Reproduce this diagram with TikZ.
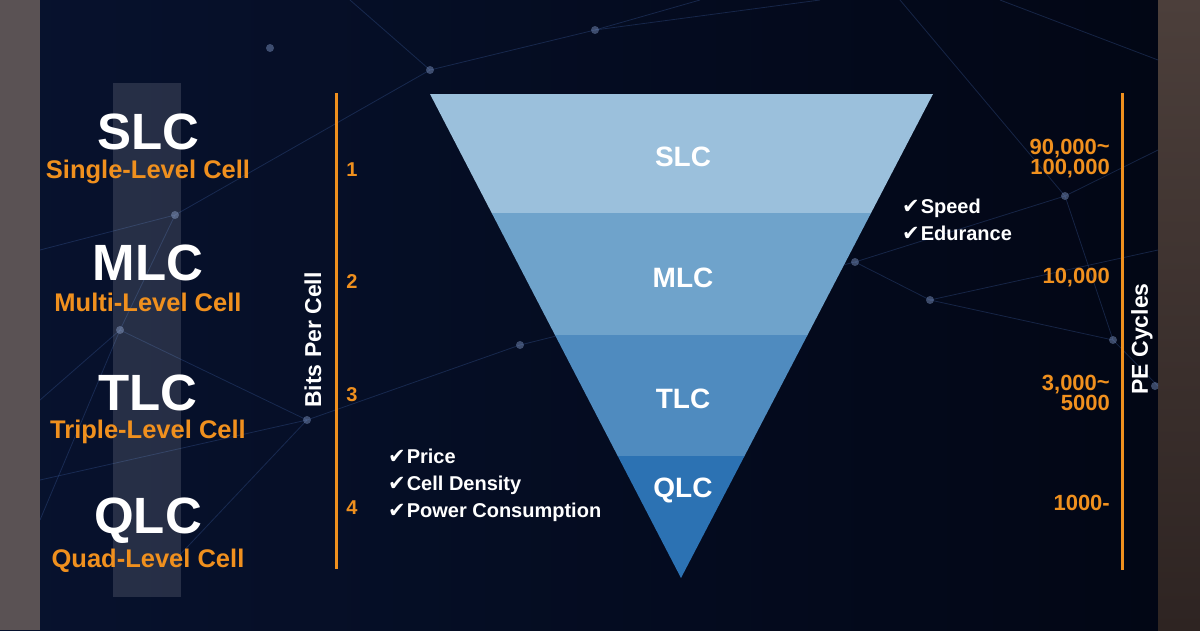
\documentclass[tikz,border=0pt]{standalone}
\usepackage{fontspec}
\setmainfont{Liberation Sans}
\newfontfamily\symfont{DejaVu Sans}
\usetikzlibrary{calc}
\definecolor{navy}{HTML}{07122E}
\definecolor{navydark}{HTML}{020614}
\definecolor{orng}{HTML}{F0901E}
\definecolor{bandA}{HTML}{9BC0DC}
\definecolor{bandB}{HTML}{6FA3CB}
\definecolor{bandC}{HTML}{4F8BBF}
\definecolor{bandD}{HTML}{2C72B3}
\definecolor{netline}{HTML}{3A5A9A}
\definecolor{leftstrip}{HTML}{5A5254}
\definecolor{rightstripA}{HTML}{4C3F3B}
\definecolor{rightstripB}{HTML}{2E2422}
\tikzset{
  big/.style={text=white,font=\fontsize{51}{51}\selectfont\bfseries,inner sep=0pt},
  sub/.style={text=orng,font=\fontsize{25.5}{25}\selectfont\bfseries,inner sep=0pt},
  tri/.style={text=white,font=\fontsize{28}{28}\selectfont\bfseries,inner sep=0pt},
  bit/.style={text=orng,font=\fontsize{20}{20}\selectfont\bfseries,inner sep=0pt},
  pe/.style={text=orng,font=\fontsize{22}{20.5}\selectfont\bfseries,inner sep=0pt,align=right,anchor=east},
  axlabel/.style={text=white,font=\fontsize{23}{23}\selectfont\bfseries,inner sep=0pt,rotate=90},
  chk/.style={text=white,font=\fontsize{20}{27}\selectfont\bfseries,inner sep=0pt,align=left,anchor=west},
  axis/.style={draw=orng,line width=3pt},
  net/.style={draw=netline,line width=0.8pt,opacity=0.35},
  dot/.style={fill=netline!70!white,opacity=0.5}
}
\newcommand{\ck}{{\symfont\fontsize{21}{21}\selectfont ✔}\kern1pt}
\begin{document}
\begin{tikzpicture}[x=1pt,y=-1pt]
\useasboundingbox (0,0) rectangle (1200,630);
% background
\shade[left color=navy,right color=navydark] (0,0) rectangle (1200,630);
\fill[leftstrip] (0,0) rectangle (40,630);
\shade[top color=rightstripA,bottom color=rightstripB] (1158,0) rectangle (1200,630);
% faint network
\begin{scope}
\clip (40,0) rectangle (1158,630);
\draw[net] (40,250) -- (175,215) -- (430,70) -- (595,30) -- (820,0);
\draw[net] (120,330) -- (307,420) -- (520,345) -- (855,262) -- (1065,196) -- (1113,340) -- (1158,386);
\draw[net] (40,400) -- (120,330) -- (175,215);
\draw[net] (307,420) -- (175,560) ;
\draw[net] (120,330) -- (40,520);
\draw[net] (900,0) -- (1065,196) -- (1158,150);
\draw[net] (855,262) -- (930,300) -- (1113,340);
\draw[net] (430,70) -- (350,0);
\draw[net] (595,30) -- (700,0);
\draw[net] (1000,0) -- (1158,60);
\draw[net] (307,420) -- (40,480);
\draw[net] (930,300) -- (1158,250);
\foreach \p in {(175,215),(430,70),(595,30),(120,330),(307,420),(520,345),(855,262),(1065,196),(1113,340),(1155,386),(930,300),(270,48)}
  \fill[dot] \p circle (4);
\end{scope}
% translucent bar
\fill[white,opacity=0.13] (113,83) rectangle (181,597);
% left labels
\node[big] (slc) at (148,132) {SLC};
\node[sub] (slcs) at (148,172) {Single-Level Cell};
\node[big] (mlc) at (148,263) {MLC};
\node[sub] (mlcs) at (148,302) {Multi-Level Cell};
\node[big] (tlc) at (148,393) {TLC};
\node[sub] (tlcs) at (148,432) {Triple-Level Cell};
\node[big] (qlc) at (148,521) {QLC};
\node[sub] (qlcs) at (148,561) {Quad-Level Cell};
% left axis
\coordinate (la1) at (336,93);
\coordinate (la2) at (336,569);
\draw[axis] (la1) -- (la2);
\node[axlabel] (bpc) at (313,340) {Bits Per Cell};
\node[bit] (b1) at (352,170) {1};
\node[bit] (b2) at (352,282) {2};
\node[bit] (b3) at (352,395) {3};
\node[bit] (b4) at (352,508) {4};
% triangle
\coordinate (A) at (430,94);
\coordinate (B) at (933,94);
\coordinate (V) at (681,578);
\coordinate (L1) at ($(A)!0.246!(V)$); \coordinate (R1) at ($(B)!0.246!(V)$);
\coordinate (L2) at ($(A)!0.498!(V)$); \coordinate (R2) at ($(B)!0.498!(V)$);
\coordinate (L3) at ($(A)!0.748!(V)$); \coordinate (R3) at ($(B)!0.748!(V)$);
\fill[bandA] (A) -- (B) -- (R1) -- (L1) -- cycle;
\fill[bandB] (L1) -- (R1) -- (R2) -- (L2) -- cycle;
\fill[bandC] (L2) -- (R2) -- (R3) -- (L3) -- cycle;
\fill[bandD] (L3) -- (R3) -- (V) -- cycle;
\node[tri] (tslc) at (683,157) {SLC};
\node[tri] (tmlc) at (683,278) {MLC};
\node[tri] (ttlc) at (683,399) {TLC};
\node[tri] (tqlc) at (683,490) {QLC};
% check lists
\node[chk] (good1) at (902,219.5) {\ck Speed\\\ck Edurance};
\node[chk] (good2) at (388,485) {\ck Price\\\ck Cell Density\\\ck Power Consumption};
% right axis
\coordinate (ra1) at (1122,93);
\coordinate (ra2) at (1122,570);
\draw[axis] (ra1) -- (ra2);
\node[axlabel] (pec) at (1142,339) {PE Cycles};
\node[pe] (p1) at (1110,158.5) {90,000\raisebox{0.1ex}{\char`~}\\100,000};
\node[pe] (p2) at (1110,278) {10,000};
\node[pe] (p3) at (1110,393) {3,000\raisebox{0.1ex}{\char`~}\\5000};
\node[pe] (p4) at (1110,503) {1000-};
\end{tikzpicture}
\end{document}
